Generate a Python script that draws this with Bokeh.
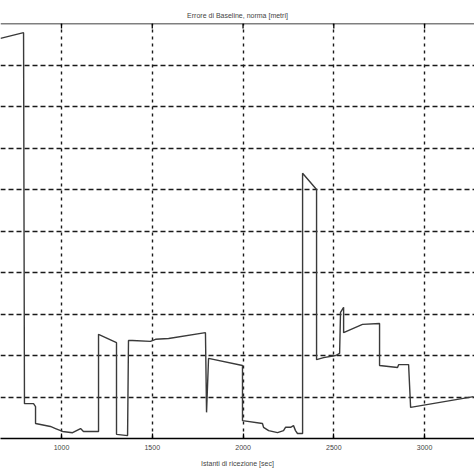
from bokeh.plotting import figure
from bokeh.models import Range1d, FixedTicker, Title, Span
from bokeh.embed import file_html
from bokeh.resources import INLINE

# Data (time in seconds, baseline error norm)
t = [664, 791, 796, 846, 857, 857, 939, 967, 1006, 1061, 1105, 1121, 1204, 1204,
     1303, 1303, 1364, 1369, 1391, 1490, 1518, 1590, 1793, 1799, 1810, 1997, 1997,
     2107, 2113, 2141, 2190, 2223, 2234, 2262, 2278, 2289, 2300, 2328, 2328, 2405,
     2405, 2444, 2510, 2532, 2537, 2554, 2554, 2658, 2752, 2752, 2851, 2857, 2912,
     2923, 3270]
err = [9.64, 9.78, 0.84, 0.84, 0.77, 0.36, 0.29, 0.24, 0.17, 0.14, 0.24, 0.17, 0.17, 2.51,
       2.31, 0.10, 0.07, 2.36, 2.36, 2.34, 2.39, 2.41, 2.55, 0.63, 1.93, 1.76, 0.43,
       0.36, 0.27, 0.19, 0.14, 0.19, 0.27, 0.27, 0.31, 0.19, 0.12, 0.12, 6.39, 6.00,
       1.90, 1.95, 2.00, 2.05, 3.04, 3.16, 2.55, 2.75, 2.77, 1.76, 1.71, 1.78, 1.78,
       0.75, 1.01]
x_ticks = [1000, 1500, 2000, 2500, 3000]
y_ticks = [0, 1, 2, 3, 4, 5, 6, 7, 8, 9, 10]

title_text = "Errore di Baseline, norma [metri]"
x_label = "Istanti di ricezione [sec]"

Y_MAX = 10

p = figure(width=474, height=474, output_backend="svg", toolbar_location=None,
           x_range=Range1d(664, 3275), y_range=Range1d(0, Y_MAX),
           min_border_left=0, min_border_right=0, min_border_top=23, min_border_bottom=36)
p.title = None
p.outline_line_color = None
p.background_fill_color = "white"
p.border_fill_color = "white"

# grids
p.xgrid.ticker = FixedTicker(ticks=x_ticks)
p.ygrid.ticker = FixedTicker(ticks=y_ticks)
p.xgrid.grid_line_color = "#1a1a1a"
p.xgrid.grid_line_dash = "3 4"
p.xgrid.grid_line_width = 1.4
p.ygrid.grid_line_color = "#1a1a1a"
p.ygrid.grid_line_dash = "5 3"
p.ygrid.grid_line_width = 1.4

# top border with inward ticks
p.add_layout(Span(location=Y_MAX, dimension="width", line_color="black", line_width=1.5))
p.segment(x0=x_ticks, y0=[Y_MAX] * len(x_ticks), x1=x_ticks,
          y1=[Y_MAX - 0.12] * len(x_ticks), line_color="black", line_width=1.3)

p.line(t, err, line_color="#3a3a3a", line_width=1.4)

# axes
p.yaxis.visible = False
xa = p.xaxis[0]
xa.ticker = FixedTicker(ticks=x_ticks)
xa.axis_label = x_label
xa.axis_label_text_font = "Liberation Sans"
xa.axis_label_text_font_size = "7px"
xa.axis_label_text_font_style = "normal"
xa.axis_label_text_color = "#444444"
xa.axis_label_standoff = 7
xa.major_label_text_font = "Liberation Sans"
xa.major_label_text_font_size = "7px"
xa.major_label_text_color = "#444444"
xa.major_label_standoff = 6
xa.major_tick_in = 5
xa.major_tick_out = 0
xa.minor_tick_line_color = None
xa.axis_line_color = "black"
xa.axis_line_width = 1.5
xa.major_tick_line_color = "black"
xa.major_tick_line_width = 1.3

p.add_layout(Title(text=title_text, align="center", text_font="Liberation Sans",
                   text_font_size="7px", text_font_style="normal",
                   text_color="#444444", standoff=10), "above")

open("out.html", "w").write(file_html(p, INLINE))
